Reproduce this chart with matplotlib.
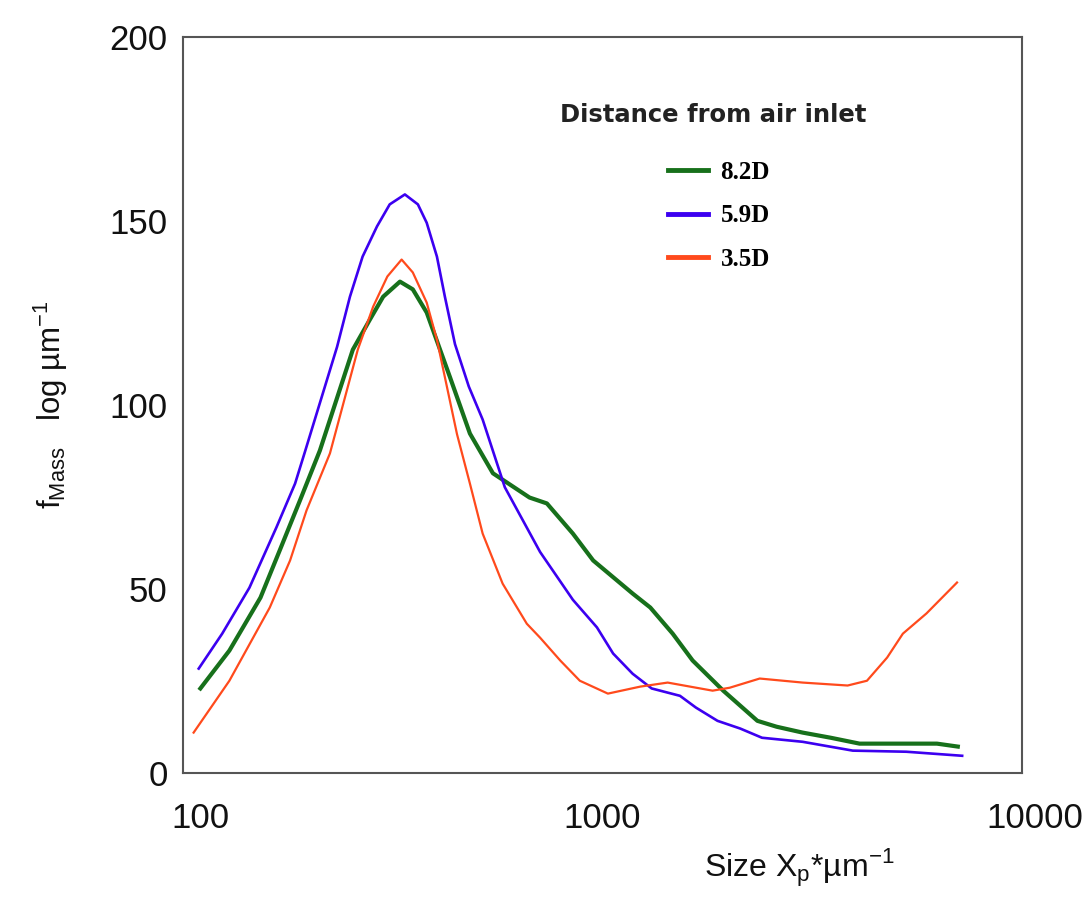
import numpy as np
import matplotlib
matplotlib.use('Agg')
import matplotlib.pyplot as plt
import matplotlib.transforms as mtransforms

# 8.2D
x_82 = [110, 129, 153, 170, 190, 212, 254, 279, 300, 329, 353, 381, 410, 433, 483, 548, 670, 737,
        850, 950, 1180, 1300, 1470, 1640, 1940, 2340, 2600, 3000, 3500, 4100, 6270, 7030]
y_82 = [22.9, 33.2, 47.6, 60.4, 74.0, 87.6, 115.0, 123.2, 129.4, 133.5, 131.4, 125.1, 115.0, 107.5, 92.2, 81.4, 74.8, 73.2,
        65.0, 57.7, 48.7, 44.9, 37.8, 30.5, 22.3, 14.1, 12.5, 10.9, 9.5, 7.9, 7.9, 7.1]

# 5.9D
x_59 = [109, 124, 144, 167, 185, 195, 233, 250, 268, 290, 311, 338, 363, 381, 403, 421, 445, 480, 518, 585,
        710, 850, 970, 1060, 1180, 1310, 1530, 1670, 1880, 2130, 2400, 3000, 3950, 5300, 7200]
y_59 = [28.3, 37.8, 50.3, 66.7, 78.6, 87.0, 115.8, 129.4, 140.3, 148.5, 154.5, 157.2, 154.5, 149.5, 140.3, 129.4, 116.5, 105.0, 96.0, 77.6,
        60.0, 47.0, 39.5, 32.4, 26.9, 22.9, 20.9, 17.7, 14.1, 12.0, 9.5, 8.4, 6.0, 5.7, 4.6]

# 3.5D
x_35 = [106, 129, 161, 180, 197, 224, 261, 284, 307, 332, 353, 381, 403, 450, 483, 518, 578, 660, 710,
        793, 883, 1030, 1230, 1430, 1830, 2010, 2370, 3000, 3840, 4270, 4770, 5200, 5920, 7000]
y_35 = [10.9, 25.0, 44.9, 57.7, 71.3, 86.8, 115.0, 126.7, 134.9, 139.5, 136.0, 127.8, 117.7, 92.0, 78.6, 65.0, 51.4, 40.5, 36.7,
        30.5, 25.0, 21.5, 23.4, 24.5, 22.3, 23.1, 25.6, 24.5, 23.7, 25.0, 31.3, 37.8, 43.3, 51.7]

labels = ['8.2D', '5.9D', '3.5D']
colors = ['#17701b', '#3c00f0', '#ff4a1c']

plt.rcParams['font.family'] = ['Liberation Sans', 'DejaVu Sans']
plt.rcParams['mathtext.fontset'] = 'custom'
plt.rcParams['mathtext.rm'] = 'Liberation Sans'

fig = plt.figure(figsize=(10.87, 8.97), dpi=100)
ax = fig.add_axes([183 / 1087, 1 - 772.7 / 897, (1022 - 183) / 1087, (772.7 - 37) / 897])

ax.plot(x_82, y_82, color=colors[0], lw=3.0, label=labels[0])
ax.plot(x_59, y_59, color=colors[1], lw=1.9, label=labels[1])
ax.plot(x_35, y_35, color=colors[2], lw=1.6, label=labels[2])

ax.set_xscale('log')
ax.set_xlim(100, 10000)
ax.set_ylim(0, 200)
ax.set_xticks([100, 1000, 10000])
ax.set_xticklabels(['100', '1000', '10000'])
ax.set_yticks([0, 50, 100, 150, 200])
ax.minorticks_off()
ax.tick_params(length=0, labelsize=25, colors='#111111')
ax.tick_params(axis='x', pad=21)
ax.tick_params(axis='y', pad=11)
for sp in ax.spines.values():
    sp.set_color('#555555')
    sp.set_linewidth(1.5)

# nudge end labels as in the original
offsets = [17, 0, 13]
for lab, dx in zip(ax.get_xticklabels(), offsets):
    lab.set_transform(lab.get_transform() + mtransforms.ScaledTranslation(dx / 100, 0, fig.dpi_scale_trans))

ax.set_xlabel(r'Size X$_\mathregular{p}$*µm$^\mathregular{-1}$', fontsize=23, color='#111111')
ax.xaxis.set_label_coords(0.735, -0.1)
ax.set_ylabel(r'f$_\mathregular{Mass}$   log µm$^\mathregular{-1}$', fontsize=22.5, color='#111111')
ax.yaxis.set_label_coords(-0.135, 0.5)

fig.text(560 / 1087, 1 - 115 / 897, 'Distance from air inlet', fontsize=17.5, fontweight='bold',
         family='DejaVu Sans', va='center', ha='left', color='#222222')
ax.legend(loc='upper left', bbox_to_anchor=(668 / 1087, 1 - 161 / 897), bbox_transform=fig.transFigure,
          frameon=False, borderpad=0, borderaxespad=0, handlelength=1.6, handletextpad=0.5,
          labelspacing=0.82, prop={'family': 'Liberation Serif', 'weight': 'bold', 'size': 18})
for line in ax.get_legend().get_lines():
    line.set_linewidth(3.5)

fig.savefig('out.png', dpi=100)
